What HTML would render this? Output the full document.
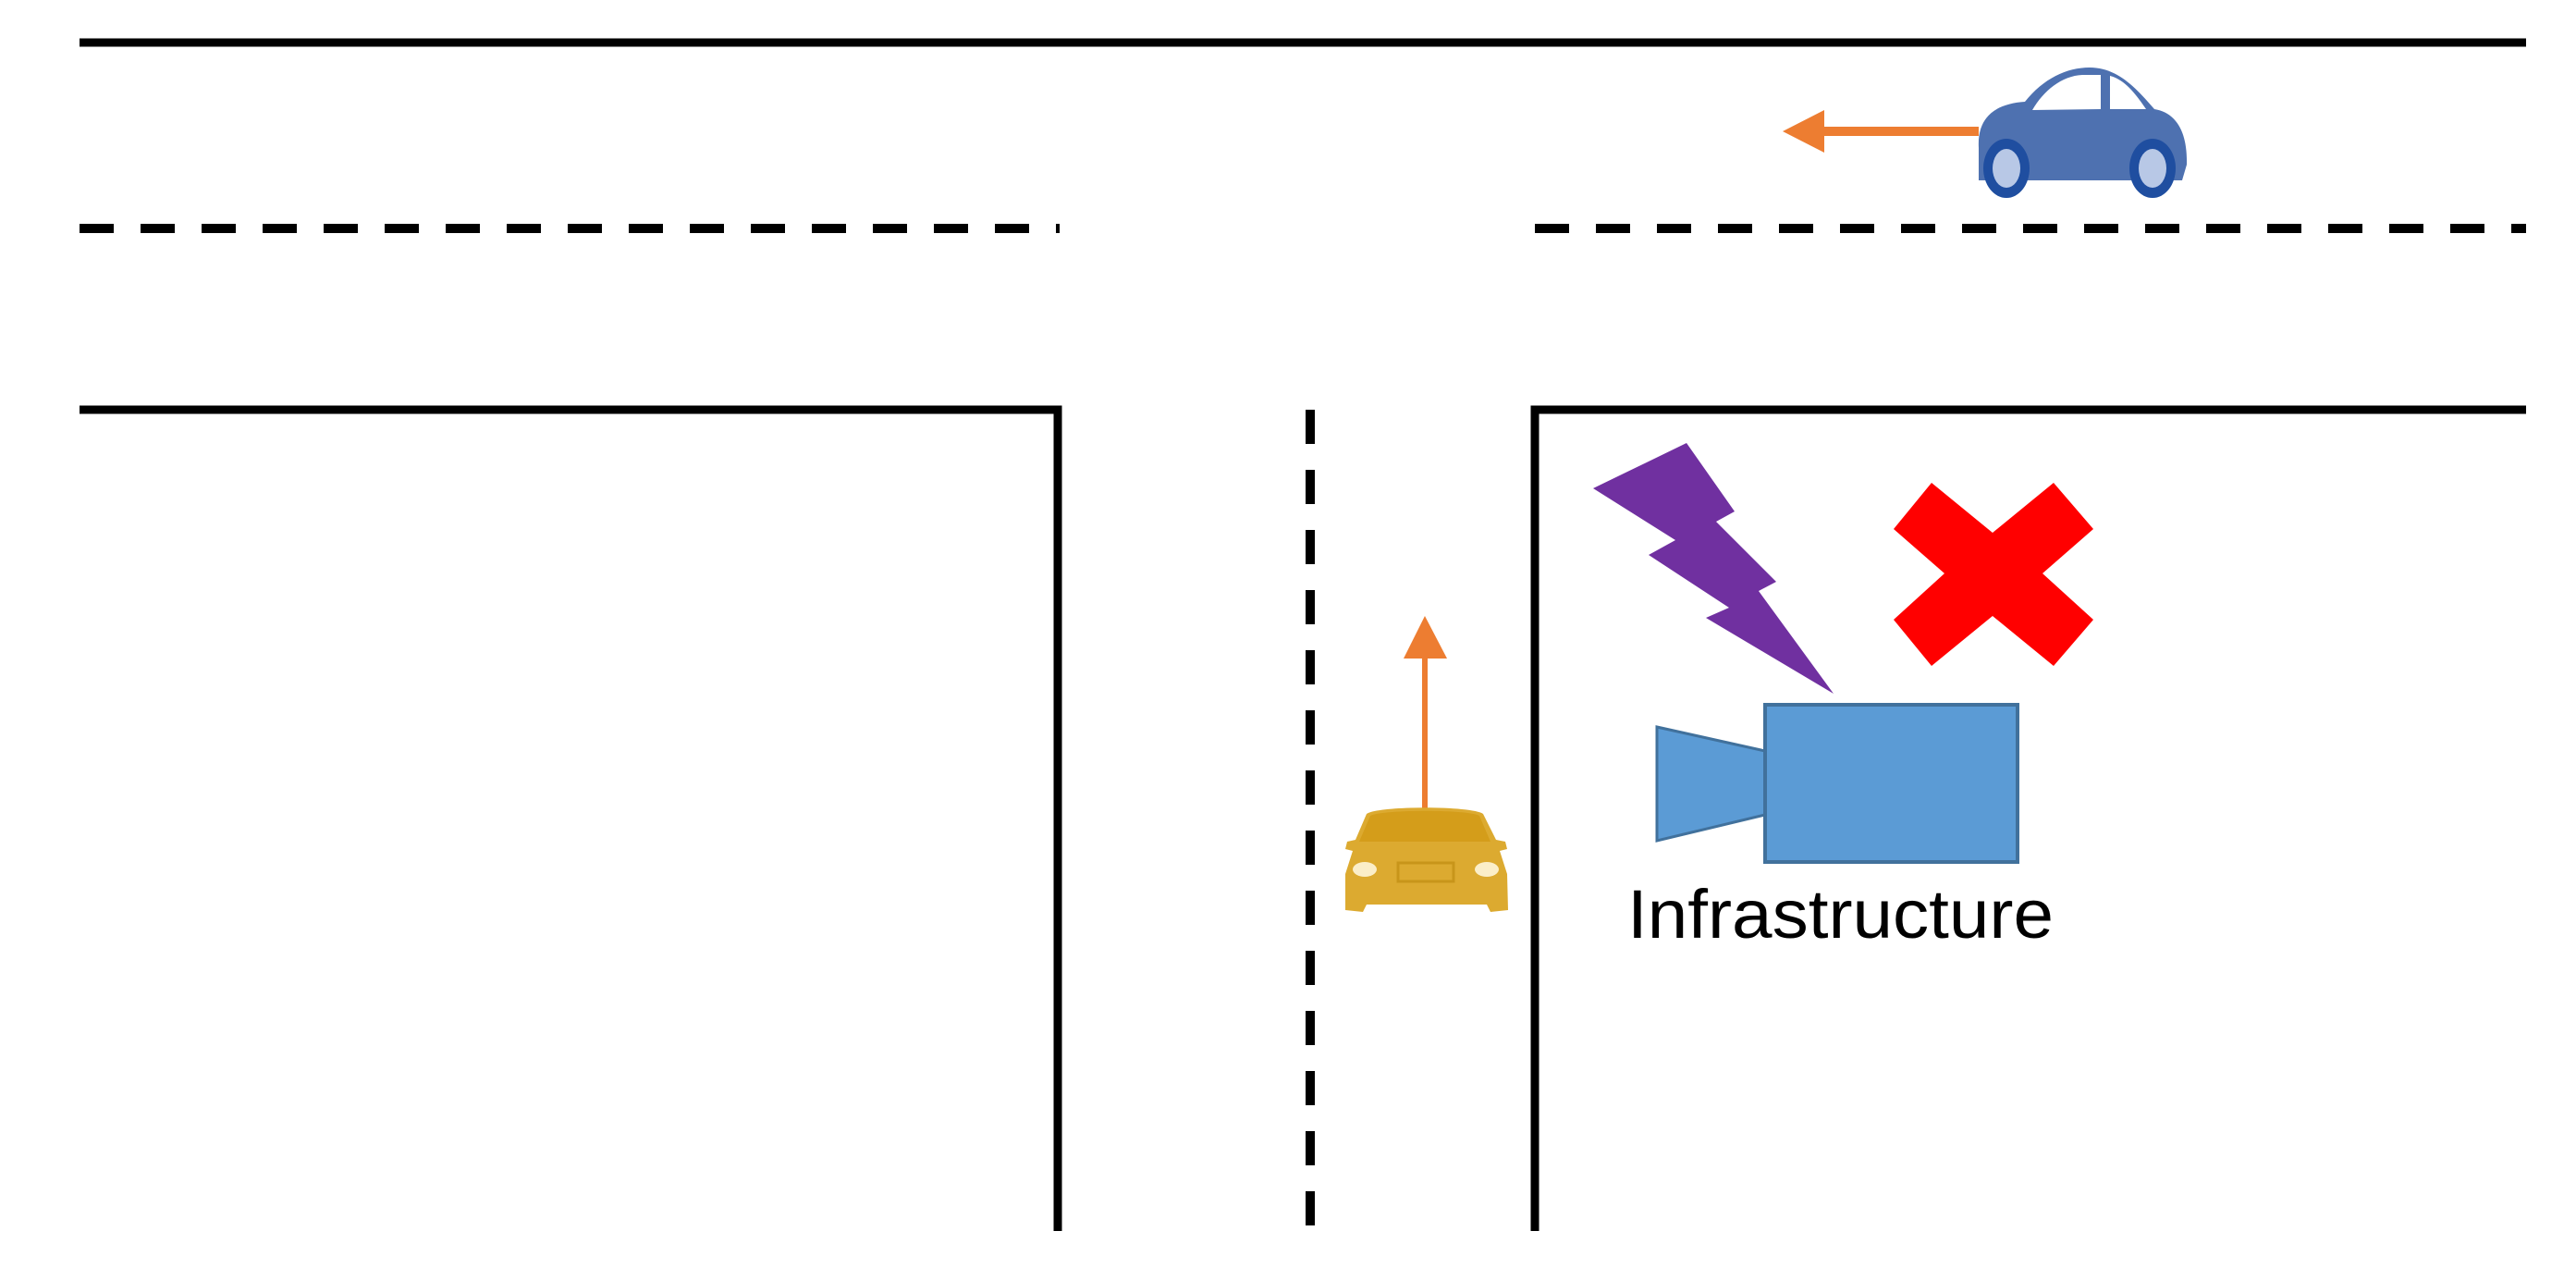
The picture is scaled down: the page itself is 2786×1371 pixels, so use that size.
<!DOCTYPE html>
<html><head><meta charset="utf-8"><style>
html,body{margin:0;padding:0;background:#fff;}
svg{display:block;}
</style></head><body>
<svg width="2786" height="1371" viewBox="0 0 2786 1371" xmlns="http://www.w3.org/2000/svg">
<rect width="2786" height="1371" fill="#fff"/>
<line x1="86" y1="46" x2="2732" y2="46" stroke="#000" stroke-width="9"/>
<line x1="86" y1="247" x2="1146" y2="247" stroke="#000" stroke-width="10" stroke-dasharray="37 29"/>
<line x1="1660" y1="247" x2="2732" y2="247" stroke="#000" stroke-width="10" stroke-dasharray="37 29"/>
<polyline points="86,443 1144,443 1144,1331" fill="none" stroke="#000" stroke-width="9"/>
<polyline points="2732,443 1660,443 1660,1331" fill="none" stroke="#000" stroke-width="9"/>
<line x1="1417" y1="443" x2="1417" y2="1331" stroke="#000" stroke-width="10" stroke-dasharray="37 28"/>
<line x1="1970" y1="142" x2="2140" y2="142" stroke="#ed7d31" stroke-width="10"/>
<polygon points="1928,142 1973,119 1973,165" fill="#ed7d31"/>
<path d="M2140,160 C2138,125 2160,112 2190,110 C2210,85 2235,73 2260,73 C2290,73 2310,95 2330,118 C2355,122 2366,145 2365,178 L2360,195 L2140,195 Z" fill="#4e71b0"/>
<path d="M2198,119 C2210,98 2230,82 2252,81 L2272,81 L2272,118 Z" fill="#fff"/>
<path d="M2282,82 C2298,86 2310,102 2321,118 L2282,118 Z" fill="#fff"/>
<ellipse cx="2170" cy="182" rx="25" ry="32" fill="#1f4ea0"/>
<ellipse cx="2170" cy="182" rx="15" ry="21" fill="#b8c8e6"/>
<ellipse cx="2328" cy="182" rx="25" ry="32" fill="#1f4ea0"/>
<ellipse cx="2328" cy="182" rx="15" ry="21" fill="#b8c8e6"/>
<line x1="1541" y1="874" x2="1541" y2="705" stroke="#ed7d31" stroke-width="6"/>
<polygon points="1541,666 1518,712 1565,712" fill="#ed7d31"/>
<path d="M1478,880 C1490,871 1592,871 1604,880 L1618,908 L1628,910 L1630,918 L1622,920 L1630,945 L1631,984 L1612,986 L1608,978 L1478,978 L1474,986 L1455,984 L1455,945 L1463,920 L1455,918 L1457,910 L1466,908 Z" fill="#dcaa30"/>
<path d="M1482,882 C1495,875 1588,875 1600,882 L1612,910 L1470,910 Z" fill="#d49d1a"/>
<ellipse cx="1476" cy="940" rx="13" ry="8" fill="#fbeec8"/>
<ellipse cx="1608" cy="940" rx="13" ry="8" fill="#fbeec8"/>
<rect x="1512" y="933" width="60" height="20" fill="none" stroke="#c8951a" stroke-width="3"/>
<polygon points="1824,479 1876,553 1856,564 1921,629 1902,639 1983,750 1845,668 1870,657 1783,600 1812,584 1723,528" fill="#7030a0"/>
<polygon points="2089,522 2155,576 2221,522 2264,572 2209,620 2264,670 2221,720 2155,666 2089,720 2048,670 2103,620 2048,572" fill="#ff0000"/>
<polygon points="1792,786 1909,812 1909,881 1792,909" fill="#5b9bd5" stroke="#41719c" stroke-width="3"/>
<rect x="1909" y="762" width="273" height="170" fill="#5b9bd5" stroke="#41719c" stroke-width="4"/>
<text x="1760" y="1014" font-family="Liberation Sans, sans-serif" font-size="74" fill="#000" textLength="461" lengthAdjust="spacingAndGlyphs">Infrastructure</text>
</svg>
</body></html>
